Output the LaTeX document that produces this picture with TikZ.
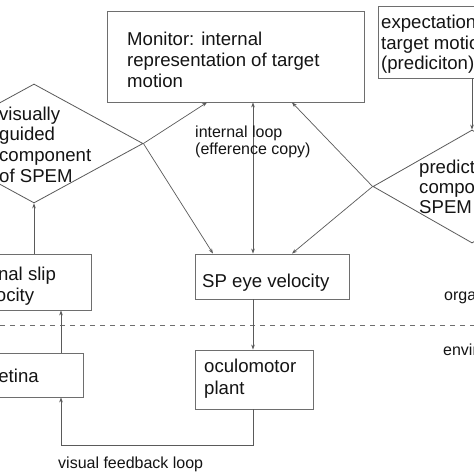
\documentclass[tikz,border=0pt]{standalone}
\usepackage{fontspec}
\setmainfont{Liberation Sans}
\usetikzlibrary{shapes.geometric,arrows.meta,calc}
\definecolor{linec}{HTML}{5A5A5A}
\definecolor{boxc}{HTML}{6E6E6E}
\definecolor{txtc}{HTML}{141414}
\begin{document}
\begin{tikzpicture}[x=1pt,y=-1pt,
  box/.style={draw=boxc, line width=0.9pt, rectangle, inner sep=0pt},
  dia/.style={draw=linec, line width=0.8pt, diamond, inner sep=0pt},
  arr/.style={draw=linec, line width=0.7pt, -{Stealth[length=5pt,width=3.6pt]}},
  big/.style={anchor=base west, inner sep=0pt, text=txtc, font=\fontsize{18.6}{21}\selectfont},
  small/.style={anchor=base west, inner sep=0pt, text=txtc, font=\fontsize{16}{18}\selectfont}]
\useasboundingbox (0,0) rectangle (474,474);
\fill[white] (0,0) rectangle (474,474);
\clip (0,0) rectangle (474,474);

% boxes
\node[box, minimum width=257pt, minimum height=91pt] (monitor) at (235.5,56.5) {};
\node[box, minimum width=132pt, minimum height=72pt] (exp) at (444,42) {};
\node[dia, minimum width=218pt, minimum height=119pt] (vg) at (34,143.5) {};
\node[dia, minimum width=198pt, minimum height=113pt] (pd) at (472,186.5) {};
\node[box, minimum width=125pt, minimum height=56pt] (rs) at (28.5,282) {};
\node[box, minimum width=154pt, minimum height=45pt] (sp) at (272,276.5) {};
\node[box, minimum width=101pt, minimum height=44pt] (re) at (32.5,375) {};
\node[box, minimum width=118pt, minimum height=59pt] (ocu) at (254,379.5) {};

% dashed separator
\coordinate (dl) at (0,325);
\coordinate (dr) at (474,325);
\draw[draw=boxc, line width=0.7pt, dash pattern=on 5pt off 5pt] (dl) -- (dr);

% connectors
\draw[arr] (vg.east) -- ([xshift=-28.5pt]monitor.south);
\draw[arr] (vg.east) -- ([xshift=-59pt]sp.north);
\draw[arr] (pd.west) -- ([xshift=56.5pt]monitor.south);
\draw[arr] (pd.west) -- ([xshift=20pt]sp.north);
\draw[arr, {Stealth[length=5pt,width=3.6pt]}-{Stealth[length=5pt,width=3.6pt]}] ([xshift=-19pt]sp.north) -- ([xshift=17.5pt]monitor.south);
\draw[arr] (pd.north |- exp.south) -- (pd.north);
\draw[arr] ([xshift=-19pt]sp.south) -- ([xshift=-1pt]ocu.north);
\draw[arr] (rs.north -| vg.south) -- (vg.south);
\draw[arr] ([xshift=28.5pt]re.north) -- ([xshift=28.5pt]re.north |- rs.south);
\draw[arr] ([xshift=-1pt]ocu.south) -- ++(0,36) -| ([xshift=28.5pt]re.south);

% texts
\node[big] (m1) at (127,45) {Monitor: internal};
\node[big] (m2) at (127,66) {representation of target};
\node[big] (m3) at (127,87) {motion};
\node[big] (e1) at (381,28.5) {expectation of};
\node[big] (e2) at (381,49) {target motion};
\node[big] (e3) at (381,69) {(prediciton)};
\node[big] (v1) at (-1,120) {visually};
\node[big] (v2) at (-1,140.5) {guided};
\node[big] (v3) at (-1,161) {component};
\node[big] (v4) at (-1,182) {of SPEM};
\node[big] (p1) at (419,173) {predictive};
\node[big] (p2) at (419,193) {component of};
\node[big] (p3) at (419,213) {SPEM};
\node[small] (il1) at (195,137) {internal loop};
\node[small] (il2) at (195,154) {(efference copy)};
\node[big] (r1) at (-28,280) {retinal slip};
\node[big] (r2) at (-28,301) {velocity};
\node[big] (s1) at (202,287) {SP eye velocity};
\node[big] (rt) at (-8,382) {retina};
\node[big] (o1) at (204,372) {oculomotor};
\node[big] (o2) at (204,394) {plant};
\node[small] (fb) at (58,468) {visual feedback loop};
\node[small] (org) at (444,300) {organism};
\node[small] (env) at (443,355) {environment};
\end{tikzpicture}
\end{document}
